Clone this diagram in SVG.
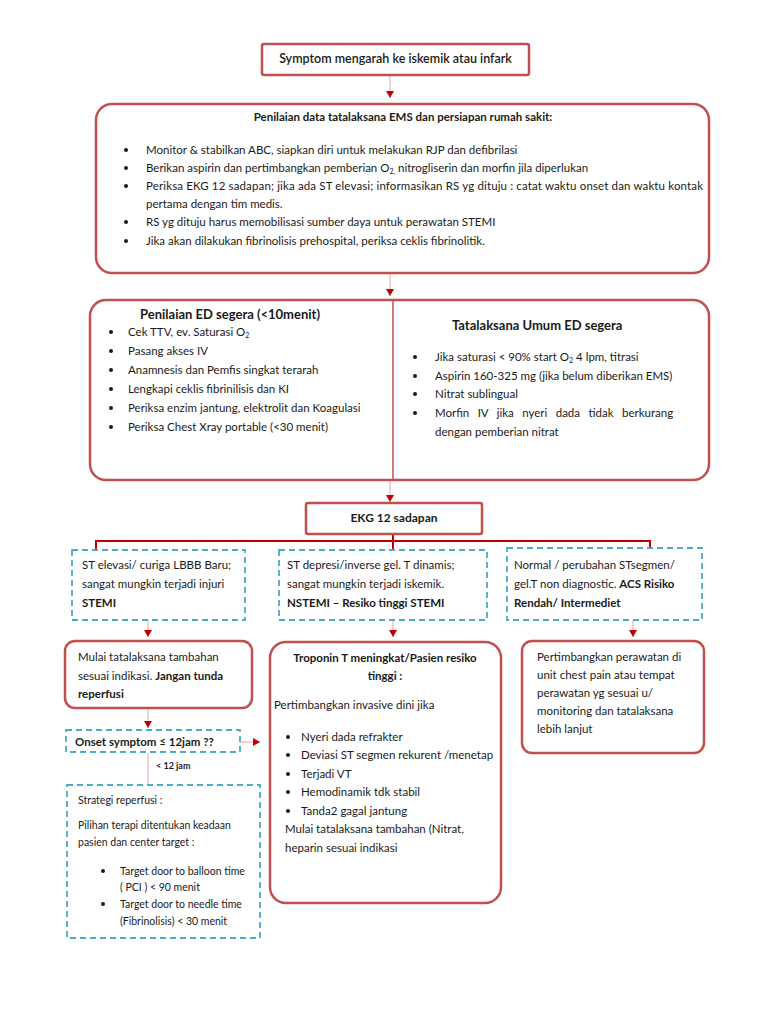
<svg xmlns="http://www.w3.org/2000/svg" width="768" height="1024" viewBox="0 0 768 1024">
<defs>
<marker id="ah" markerWidth="8" markerHeight="8" refX="7" refY="4" orient="auto" markerUnits="userSpaceOnUse" viewBox="0 0 8 8">
<path d="M0,0 L7,4 L0,8 Z" fill="#c00000"/>
</marker>
</defs>
<style>
text{font-family:Lato,"Liberation Sans",sans-serif;font-size:11.5px;fill:#1a1a1a}
.b{font-weight:bold}
.t{font-size:13px;font-weight:bold}
.s{font-size:10.5px}
.xs{font-size:9px;font-weight:bold}
.red{fill:#fff;stroke:#c0504d;stroke-width:2.5}
.dash{fill:#fff;stroke:#4bacc6;stroke-width:1.8;stroke-dasharray:6,4}
.ln{fill:none;stroke:#c00000;stroke-width:2}
.lt{fill:none;stroke:#e6a5a3;stroke-width:1}
.bul{fill:#1a1a1a}
</style>
<rect width="768" height="1024" fill="#fff"/>

<g id="connectors">
<line class="lt" x1="390" y1="76" x2="390" y2="98" marker-end="url(#ah)"/>
<line class="lt" x1="390" y1="274" x2="390" y2="296" marker-end="url(#ah)"/>
<line class="lt" x1="390" y1="481" x2="390" y2="502" marker-end="url(#ah)"/>
<polyline class="ln" points="96,550 96,541 650,541 650,548"/>
<line class="ln" x1="393" y1="534" x2="393" y2="550"/>
<line class="lt" x1="148" y1="620" x2="148" y2="637" marker-end="url(#ah)"/>
<line class="lt" x1="393" y1="620" x2="393" y2="637" marker-end="url(#ah)"/>
<line class="lt" x1="633" y1="620" x2="633" y2="637" marker-end="url(#ah)"/>
<line class="lt" x1="148" y1="709" x2="148" y2="728" marker-end="url(#ah)"/>
<line class="lt" x1="240" y1="742" x2="260" y2="742" marker-end="url(#ah)"/>
<line class="lt" x1="148" y1="753" x2="148" y2="792" marker-end="url(#ah)"/>
<text class="xs" x="156" y="769">&lt; 12 jam</text>
</g>

<g id="n1">
<rect class="red" x="262" y="44" width="267" height="31" rx="2"/>
<text x="395.5" y="63" text-anchor="middle" style="font-size:12.5px;font-weight:600">Symptom mengarah ke iskemik atau infark</text>
</g>

<g id="n2">
<rect class="red" x="96" y="104" width="613" height="169" rx="16"/>
<text class="b" x="403" y="121" text-anchor="middle">Penilaian data tatalaksana EMS dan persiapan rumah sakit:</text>
<circle class="bul" cx="126" cy="150" r="2"/><text x="146" y="154">Monitor &amp; stabilkan ABC, siapkan diri untuk melakukan RJP dan defibrilasi</text>
<circle class="bul" cx="126" cy="168" r="2"/><text x="146" y="172">Berikan aspirin dan pertimbangkan pemberian O<tspan font-size="7" dy="2">2,</tspan><tspan dy="-2"> nitrogliserin dan morfin jila diperlukan</tspan></text>
<circle class="bul" cx="126" cy="186" r="2"/><text x="146" y="190" textLength="557" lengthAdjust="spacing">Periksa EKG 12 sadapan; jika ada ST elevasi; informasikan RS yg dituju : catat waktu onset dan waktu kontak</text>
<text x="146" y="208">pertama dengan tim medis.</text>
<circle class="bul" cx="126" cy="222" r="2"/><text x="146" y="226">RS yg dituju harus memobilisasi sumber daya untuk perawatan STEMI</text>
<circle class="bul" cx="126" cy="241" r="2"/><text x="146" y="245">Jika akan dilakukan fibrinolisis prehospital, periksa ceklis fibrinolitik.</text>
</g>

<g id="n3">
<rect class="red" x="90" y="300" width="619" height="180" rx="16"/>
<line x1="393" y1="300" x2="393" y2="480" stroke="#c0504d" stroke-width="1.5"/>
<text class="t" x="140" y="319">Penilaian ED segera (&lt;10menit)</text>
<circle class="bul" cx="111" cy="332" r="2"/><text x="128" y="336">Cek TTV, ev. Saturasi O<tspan font-size="7" dy="2">2</tspan></text>
<circle class="bul" cx="111" cy="351" r="2"/><text x="128" y="355">Pasang akses IV</text>
<circle class="bul" cx="111" cy="370" r="2"/><text x="128" y="374">Anamnesis dan Pemfis singkat terarah</text>
<circle class="bul" cx="111" cy="389" r="2"/><text x="128" y="393">Lengkapi ceklis fibrinilisis dan KI</text>
<circle class="bul" cx="111" cy="408" r="2"/><text x="128" y="412">Periksa enzim jantung, elektrolit dan Koagulasi</text>
<circle class="bul" cx="111" cy="427" r="2"/><text x="128" y="431">Periksa Chest Xray portable (&lt;30 menit)</text>
<text class="t" x="452" y="330">Tatalaksana Umum ED segera</text>
<circle class="bul" cx="415" cy="357" r="2"/><text x="435" y="361">Jika saturasi &lt; 90% start O<tspan font-size="7" dy="2">2</tspan><tspan dy="-2">  4 lpm, titrasi</tspan></text>
<circle class="bul" cx="415" cy="376" r="2"/><text x="435" y="380">Aspirin 160-325 mg (jika belum diberikan EMS)</text>
<circle class="bul" cx="415" cy="394" r="2"/><text x="435" y="398">Nitrat sublingual</text>
<circle class="bul" cx="415" cy="413" r="2"/><text x="435" y="417" word-spacing="5.5">Morfin IV jika nyeri dada tidak berkurang</text>
<text x="435" y="436">dengan pemberian nitrat</text>
</g>

<g id="n4">
<rect class="red" x="306" y="503" width="176" height="31" rx="2"/>
<text class="b" x="394" y="522" text-anchor="middle" style="font-size:12px">EKG 12 sadapan</text>
</g>

<g id="n5">
<rect class="dash" x="72" y="550" width="173" height="70"/>
<text x="82" y="569">ST elevasi/ curiga LBBB Baru;</text>
<text x="82" y="588">sangat mungkin terjadi injuri</text>
<text class="b" x="82" y="607">STEMI</text>
</g>

<g id="n6">
<rect class="dash" x="279" y="550" width="208" height="70"/>
<text x="287" y="569">ST depresi/inverse gel. T dinamis;</text>
<text x="287" y="588">sangat mungkin terjadi iskemik.</text>
<text class="b" x="287" y="607">NSTEMI – Resiko tinggi STEMI</text>
</g>

<g id="n7">
<rect class="dash" x="507" y="548" width="195" height="72"/>
<text x="514" y="569">Normal / perubahan STsegmen/</text>
<text x="514" y="588">gel.T non diagnostic. <tspan class="b">ACS Risiko</tspan></text>
<text class="b" x="514" y="607">Rendah/ Intermediet</text>
</g>

<g id="n8">
<rect class="red" x="65" y="641" width="187" height="67" rx="10" stroke-width="1.8"/>
<text x="78" y="661">Mulai tatalaksana tambahan</text>
<text x="78" y="680">sesuai indikasi. <tspan class="b">Jangan tunda</tspan></text>
<text class="b" x="78" y="698">reperfusi</text>
</g>

<g id="n9">
<rect class="dash" x="66" y="730" width="174" height="22"/>
<text class="b" x="75" y="746">Onset symptom ≤ 12jam ??</text>
</g>

<g id="n10">
<rect class="dash" x="67" y="785" width="193" height="153"/>
<text class="s" x="78" y="804">Strategi reperfusi :</text>
<text class="s" x="78" y="829">Pilihan terapi ditentukan keadaan</text>
<text class="s" x="78" y="846">pasien dan center target :</text>
<circle class="bul" cx="103" cy="871" r="2"/><text class="s" x="120" y="875">Target door to balloon time</text>
<text class="s" x="120" y="891">( PCI ) &lt; 90 menit</text>
<circle class="bul" cx="103" cy="904" r="2"/><text class="s" x="120" y="908">Target door to needle time</text>
<text class="s" x="120" y="925">(Fibrinolisis) &lt; 30 menit</text>
</g>

<g id="n11">
<rect class="red" x="270" y="642" width="231" height="261" rx="16" stroke-width="1.8"/>
<text class="b" x="385" y="662" text-anchor="middle">Troponin T meningkat/Pasien resiko</text>
<text class="b" x="385" y="680" text-anchor="middle">tinggi :</text>
<text x="274" y="709">Pertimbangkan invasive dini jika</text>
<circle class="bul" cx="288" cy="737" r="2"/><text x="301" y="741">Nyeri dada refrakter</text>
<circle class="bul" cx="288" cy="755" r="2"/><text x="301" y="759">Deviasi ST segmen rekurent /menetap</text>
<circle class="bul" cx="288" cy="774" r="2"/><text x="301" y="778">Terjadi VT</text>
<circle class="bul" cx="288" cy="792" r="2"/><text x="301" y="796">Hemodinamik tdk stabil</text>
<circle class="bul" cx="288" cy="811" r="2"/><text x="301" y="815">Tanda2 gagal jantung</text>
<text x="285" y="833">Mulai tatalaksana tambahan (Nitrat,</text>
<text x="285" y="852">heparin sesuai indikasi</text>
</g>

<g id="n12">
<rect class="red" x="522" y="641" width="182" height="112" rx="10" stroke-width="1.8"/>
<text x="537" y="661">Pertimbangkan perawatan di</text>
<text x="537" y="679">unit chest pain atau tempat</text>
<text x="537" y="697">perawatan yg sesuai u/</text>
<text x="537" y="715">monitoring dan tatalaksana</text>
<text x="537" y="733">lebih lanjut</text>
</g>
</svg>
